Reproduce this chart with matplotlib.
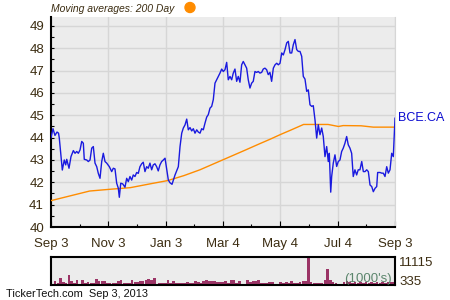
import matplotlib
matplotlib.use("Agg")
import matplotlib.pyplot as plt
import matplotlib.dates as mdates
import numpy as np
import datetime as dt

# ---- data ----
start_date = dt.date(2012, 9, 3)
tick_labels = ["Sep 3", "Nov 3", "Jan 3", "Mar 4", "May 4", "Jul 4", "Sep 3"]
tick_dates = [dt.date(2012, 9, 3), dt.date(2012, 11, 3), dt.date(2013, 1, 3),
              dt.date(2013, 3, 4), dt.date(2013, 5, 4), dt.date(2013, 7, 4),
              dt.date(2013, 9, 3)]

price_days = [0, 2.1, 4.2, 6.4, 8.0, 8.8, 12.0, 14.1, 15.6, 16.7, 19.1, 21.2, 23.7, 25.5,
              27.3, 29.0, 30.8, 32.6, 34.3, 35.3, 37.9, 39.6, 41.4, 43.2, 44.9, 46.7, 48.5,
              50.2, 52.0, 53.8, 55.5, 57.3, 59.1, 61.9, 64.4, 66.1, 67.9, 69.7, 71.4, 72.5,
              74.0, 76.1, 78.5, 80.3, 82.0, 83.8, 85.6, 87.3, 89.1, 90.9, 92.6, 94.4, 96.2,
              97.9, 99.7, 101.5, 103.2, 105.0, 106.8, 108.5, 110.3, 112.1, 113.8, 115.6,
              117.4, 119.2, 121.0, 122.8, 124.5, 126.3, 128.4, 131.6, 135.1, 136.9, 138.7,
              140.4, 142.2, 144.0, 145.7, 147.5, 149.3, 151.0, 152.8, 154.6, 156.3, 158.1,
              159.9, 161.6, 163.4, 165.2, 166.9, 168.7, 170.5, 172.2, 174.0, 175.8, 177.5,
              179.3, 181.1, 182.8, 184.6, 186.4, 188.1, 189.9, 191.7, 193.4, 195.2, 197.0,
              198.7, 200.5, 202.3, 204.0, 205.8, 207.6, 209.3, 211.1, 212.9, 214.6, 216.4,
              218.2, 219.9, 221.7, 223.5, 225.2, 227.0, 228.8, 230.5, 232.3, 234.1, 235.9,
              237.7, 239.5, 241.2, 243.0, 244.8, 246.5, 248.3, 250.1, 251.8, 253.6, 255.4,
              257.1, 258.9, 260.7, 262.4, 264.2, 266.0, 267.7, 269.5, 271.3, 273.0, 274.8,
              276.6, 278.3, 280.1, 281.9, 283.6, 285.4, 287.2, 288.9, 290.7, 292.5, 294.2,
              295.3, 296.8, 297.8, 299.5, 301.3, 303.1, 304.8, 306.6, 308.4, 310.1, 311.9,
              313.7, 315.4, 317.2, 319.0, 320.7, 322.5, 324.3, 326.0, 327.8, 329.7, 331.4,
              333.2, 335.0, 336.7, 338.5, 340.3, 342.0, 343.8, 345.6, 346.6, 349.1, 350.9,
              352.6, 354.4, 356.2, 357.9, 359.7, 361.5, 363.2, 365.0]

prices = [44.0, 44.4, 44.1, 44.25, 44.2, 43.98, 42.55, 43.0, 42.78, 43.03, 42.63, 43.15, 43.42,
          43.3, 43.38, 43.3, 43.45, 43.83, 43.75, 43.03, 43.0, 42.93, 43.0, 43.53, 43.6, 42.86,
          42.7, 42.4, 42.18, 42.93, 43.3, 42.93, 42.86, 42.7, 42.48, 42.63, 42.6, 41.96, 41.74,
          41.33, 41.96, 41.93, 41.78, 42.18, 42.03, 42.26, 42.1, 42.33, 42.26, 42.44, 42.4, 42.7,
          42.83, 42.9, 42.48, 42.7, 42.63, 42.86, 42.56, 42.78, 42.83, 42.7, 42.51, 42.78, 42.93,
          43.0, 43.08, 42.56, 42.1, 41.98, 41.91, 42.33, 42.7, 43.6, 44.2, 44.43, 44.57, 44.83,
          44.35, 44.45, 44.3, 44.4, 44.2, 44.35, 44.25, 44.2, 44.4, 44.35, 44.65, 44.92, 45.03,
          45.32, 45.4, 45.7, 46.44, 46.59, 46.74, 46.89, 47.07, 46.96, 47.04, 47.37, 46.59, 46.74,
          46.59, 46.89, 47.07, 46.52, 46.74, 46.48, 47.26, 47.41, 47.26, 47.11, 46.59, 46.22,
          46.44, 46.52, 46.96, 46.92, 46.96, 46.89, 46.92, 47.07, 47.11, 47.04, 46.82, 46.92,
          46.52, 47.11, 47.26, 47.33, 47.26, 47.33, 47.79, 47.7, 47.94, 48.24, 48.31, 47.79,
          47.79, 48.16, 48.39, 47.94, 47.86, 47.86, 47.64, 46.74, 46.62, 46.07, 46.14, 45.47,
          45.4, 45.43, 44.8, 43.98, 44.58, 44.13, 44.43, 44.05, 43.15, 43.6, 42.93, 43.3, 41.56,
          42.26, 42.86, 43.23, 42.71, 42.93, 43.0, 43.38, 43.53, 43.75, 44.05, 43.68, 43.53,
          43.3, 42.26, 42.56, 42.33, 42.56, 42.56, 42.93, 42.48, 42.48, 42.56, 42.48, 41.88,
          41.81, 41.58, 41.73, 41.81, 42.44, 42.44, 42.41, 42.41, 42.26, 42.7, 42.41, 42.56,
          43.3, 43.15, 44.87]

ma_days = [0, 20, 41, 63, 84, 105, 124, 141, 158, 182, 206, 221, 232, 244, 254, 268, 294,
           305, 310, 329, 342, 365]
ma_values = [41.18, 41.39, 41.61, 41.69, 41.76, 41.93, 42.08, 42.3, 42.56, 43.0, 43.44,
             43.72, 43.92, 44.15, 44.33, 44.59, 44.59, 44.5, 44.54, 44.53, 44.47, 44.47]

volume = [400, 1600, 800, 2800, 1200, 800, 4000, 1600, 800, 2000, 400, 2000, 800, 1200, 800,
          800, 2400, 1400, 1400, 1400, 800, 600, 600, 600, 1400, 2000, 800, 600, 600, 2000,
          1000, 1000, 1400, 1400, 2000, 2400, 2000, 2600, 200, 600, 600, 600, 2000, 600, 1600,
          600, 600, 600, 600, 1200, 800, 800, 1600, 1200, 800, 1600, 2000, 1600, 1600, 1400,
          1000, 1000, 1000, 1400, 800, 1800, 1800, 800, 1600, 400, 400, 2000, 1000, 1400, 1400,
          2000, 800, 600, 600, 1200, 1200, 400, 400, 1200, 600, 1200, 600, 1400, 800, 800, 1000,
          1400, 1400, 11115, 1000, 800, 800, 600, 600, 2000, 6350, 2000, 1000, 800, 400, 400,
          1000, 1400, 1200, 800, 1000, 800, 1200, 800, 1000, 800, 1200, 800, 1000, 800, 1200,
          800, 1000, 1200, 1200]
vol_max_label = "11115"
vol_min_label = "335"

# ---- styling ----
BG = "#ececec"
GRID = "#d6d6d6"
TXT = "#3c2d12"
FS = 8.5

t0 = mdates.date2num(start_date)
px = t0 + np.array(price_days)
mx = t0 + np.array(ma_days)
tick_nums = [mdates.date2num(d) for d in tick_dates]
minor_nums = [(a + b) / 2 for a, b in zip(tick_nums[:-1], tick_nums[1:])]

fig = plt.figure(figsize=(4.5, 3.0), dpi=100)
plt.rcParams['font.family'] = ['Liberation Sans', 'DejaVu Sans']

ax = fig.add_axes([51 / 450, 73 / 300, 344 / 450, 210 / 300])
ax.set_facecolor(BG)
ax.plot(mx, ma_values, color="#ff8c00", lw=1.0, zorder=3)
ax.plot(px, prices, color="#1a1adf", lw=1.0, zorder=4)
ax.set_xlim(tick_nums[0], tick_nums[-1])
ax.set_ylim(40, 49.4)
ax.set_yticks(range(40, 50))
ax.set_yticks(np.arange(40.5, 49.5, 1.0), minor=True)
ax.set_xticks(tick_nums)
ax.set_xticklabels(tick_labels)
ax.set_xticks(minor_nums, minor=True)
ax.grid(True, which="major", color=GRID, lw=1.0, zorder=0)
ax.set_axisbelow(True)
ax.spines["top"].set_visible(False)
ax.spines["right"].set_color(GRID)
ax.spines["left"].set_linewidth(1.5)
ax.spines["bottom"].set_linewidth(1.5)
ax.tick_params(axis="y", which="both", direction="in", length=2.5, width=0.8,
               labelsize=FS + 1, labelcolor=TXT, pad=5)
ax.tick_params(axis="x", which="major", direction="in", length=4.5, width=0.8,
               labelsize=FS + 1, labelcolor=TXT, pad=8)
ax.tick_params(axis="x", which="minor", direction="in", length=2.5, width=0.8)
ax.annotate("BCE.CA", xy=(1, prices[-1]), xycoords=("axes fraction", "data"),
            xytext=(2, 0), textcoords="offset points", color="#0a0ad0",
            fontsize=FS + 0.5, va="center", ha="left", annotation_clip=False)

fig.text(51 / 450, 1 - 9 / 300, "Moving averages: 200 Day", fontsize=7.5,
         style="italic", color=TXT, ha="left", va="center")
fig.patches.append(matplotlib.patches.Ellipse((190 / 450, 1 - 7.5 / 300), 10 / 450, 10 / 300,
                                              transform=fig.transFigure, color="#ff8c00"))

# volume panel
av = fig.add_axes([51 / 450, 15 / 300, 344 / 450, 28.5 / 300])
av.set_facecolor(BG)
n = len(volume)
step = 365.0 / n
vx = t0 + step * (np.arange(n) + 0.5)
av.bar(vx, volume, width=step * 0.95, color="#9b3466", linewidth=0)
av.set_xlim(tick_nums[0], tick_nums[-1])
av.set_ylim(0, 11115)
av.set_xticks([])
av.set_yticks([])
for s in av.spines.values():
    s.set_linewidth(1.5)
av.text(1.012, 0.77, vol_max_label, transform=av.transAxes, fontsize=FS + 1, color=TXT,
        ha="left", va="center")
av.text(1.012, 0.11, vol_min_label, transform=av.transAxes, fontsize=FS + 1, color=TXT,
        ha="left", va="center")
av.text(0.99, 0.2, "(1000's)", transform=av.transAxes, fontsize=FS + 1, color="#4b7a5e",
        ha="right", va="center", alpha=0.9)

fig.text(6 / 450, 1 - 294 / 300, "TickerTech.com  Sep 3, 2013", fontsize=7.9,
         color="#111111", ha="left", va="center")

fig.savefig("out.png", dpi=100)
